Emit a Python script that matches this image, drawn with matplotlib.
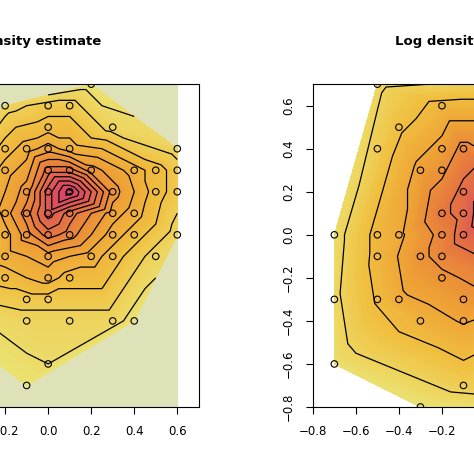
import numpy as np
import matplotlib.pyplot as plt
import matplotlib.tri as mtri
from matplotlib.colors import LinearSegmentedColormap

# left panel: sample points and density read as contour ring counts
left_x = [-0.2, 0.0, 0.1, 0.2, 0.0, 0.3,
          -0.2, -0.1, 0.0, 0.1, 0.6,
          -0.2, 0.0, 0.1, 0.2, 0.4, 0.5, 0.6,
          -0.1, 0.0, 0.1, 0.3, 0.5, 0.6,
          -0.2, -0.1, 0.0, 0.1, 0.3, 0.4,
          -0.2, -0.1, 0.0, 0.1, 0.3, 0.4, 0.6,
          -0.2, 0.0, 0.2, 0.3, 0.5,
          -0.2, 0.0, 0.1,
          -0.1, 0.0,
          -0.1, 0.1, 0.3, 0.4,
          0.0, -0.1, -0.5, -0.5]
left_y = [0.6, 0.6, 0.6, 0.7, 0.5, 0.5,
          0.4, 0.4, 0.4, 0.4, 0.4,
          0.3, 0.3, 0.3, 0.3, 0.3, 0.3, 0.3,
          0.2, 0.2, 0.2, 0.2, 0.2, 0.2,
          0.1, 0.1, 0.1, 0.1, 0.1, 0.1,
          0.0, 0.0, 0.0, 0.0, 0.0, 0.0, 0.0,
          -0.1, -0.1, -0.1, -0.1, -0.1,
          -0.2, -0.2, -0.2,
          -0.3, -0.3,
          -0.4, -0.4, -0.4, -0.4,
          -0.6, -0.7, 0.3, -0.4]
left_d = [1, 2, 2, 0, 3, 1,
          3, 4, 5, 4, 1,
          4, 8, 8, 6, 4, 3, 2,
          6, 10, 13, 6, 3, 2,
          5, 7, 10, 8, 5, 4,
          4, 6, 8, 7, 4, 3, 1,
          4, 5, 4, 3, 1,
          3, 4, 3,
          2, 2,
          1, 1, 1, 0,
          0.5, 0, 0, 0]

# right panel: sample points and log density
right_x = [-0.5, -0.2, -0.4, -0.5, -0.2, -0.1, -0.3, -0.2, -0.1, -0.2, -0.1,
           -0.7, -0.5, -0.4, -0.2, -0.1, -0.5, -0.3, -0.2, -0.2,
           -0.7, -0.5, -0.4, -0.1, -0.3, -0.1, -0.7, -0.1, -0.3,
           0.0, 0.1, 0.0, 0.2, 0.3, 0.3, 0.1, 0.1]
right_y = [0.7, 0.6, 0.5, 0.4, 0.4, 0.4, 0.3, 0.3, 0.2, 0.1, 0.1,
           0.0, 0.0, 0.0, 0.0, 0.0, -0.1, -0.1, -0.1, -0.2,
           -0.3, -0.3, -0.3, -0.3, -0.4, -0.4, -0.6, -0.7, -0.8,
           0.1, 0.2, -0.2, 0.5, -0.5, 0.1, 0.7, -0.8]
right_d = [0.5, 2, 1.5, 1, 3, 4, 3, 3.5, 5, 4.5, 5,
           0.3, 2, 2.5, 4, 5.2, 2, 3.5, 4, 3.5,
           0.5, 1.8, 2.5, 3.3, 2.2, 2.8, 0.2, 1, 0,
           6.5, 6, 4, 2, 1, 3, 1, 0.3]

cmap = LinearSegmentedColormap.from_list(
    "heat", ["#ebe272", "#f0c040", "#eea035", "#e6783e", "#dc5458", "#d8406e"])


def panel(ax, xs, ys, vals, levels, title, green, vmax):
    tri = mtri.Triangulation(xs, ys)
    vals = np.asarray(vals, float)
    if green:
        ax.axvspan(-0.9, 0.6, color="#dfe2b8", zorder=0)
    ax.tricontourf(tri, vals, levels=100, cmap=cmap, vmin=0, vmax=vmax, zorder=1)
    ax.tricontour(tri, vals, levels=levels, colors="black", linewidths=0.9, zorder=2)
    ax.scatter(xs, ys, s=22, facecolors="none", edgecolors="black", linewidths=0.8, zorder=3)
    ax.set_xlim(-0.8, 0.7)
    ax.set_ylim(-0.8, 0.7)
    ax.set_xticks([-0.8, -0.6, -0.4, -0.2, 0.0, 0.2, 0.4, 0.6])
    ax.set_yticks([-0.8, -0.6, -0.4, -0.2, 0.0, 0.2, 0.4, 0.6])
    ax.tick_params(direction="out", length=5, labelsize=8.5, pad=8)
    for lab in ax.get_yticklabels():
        lab.set_rotation(90)
        lab.set_va("center")
    ax.set_title(title, fontweight="bold", fontsize=9.5, pad=28)


fig = plt.figure(figsize=(4.74, 4.74), dpi=100)
ax1 = fig.add_axes([-0.2616, 0.1414, 0.681, 0.681])
ax2 = fig.add_axes([0.660, 0.1414, 0.681, 0.681])

panel(ax1, left_x, left_y, left_d, np.arange(0.5, 13, 1.0), "Density estimate", True, 13)
panel(ax2, right_x, right_y, right_d, [0.7, 1.7, 2.7, 3.7, 4.7, 5.7],
      "Log density estimate", False, 7.5)

fig.savefig("out.png", dpi=100)
